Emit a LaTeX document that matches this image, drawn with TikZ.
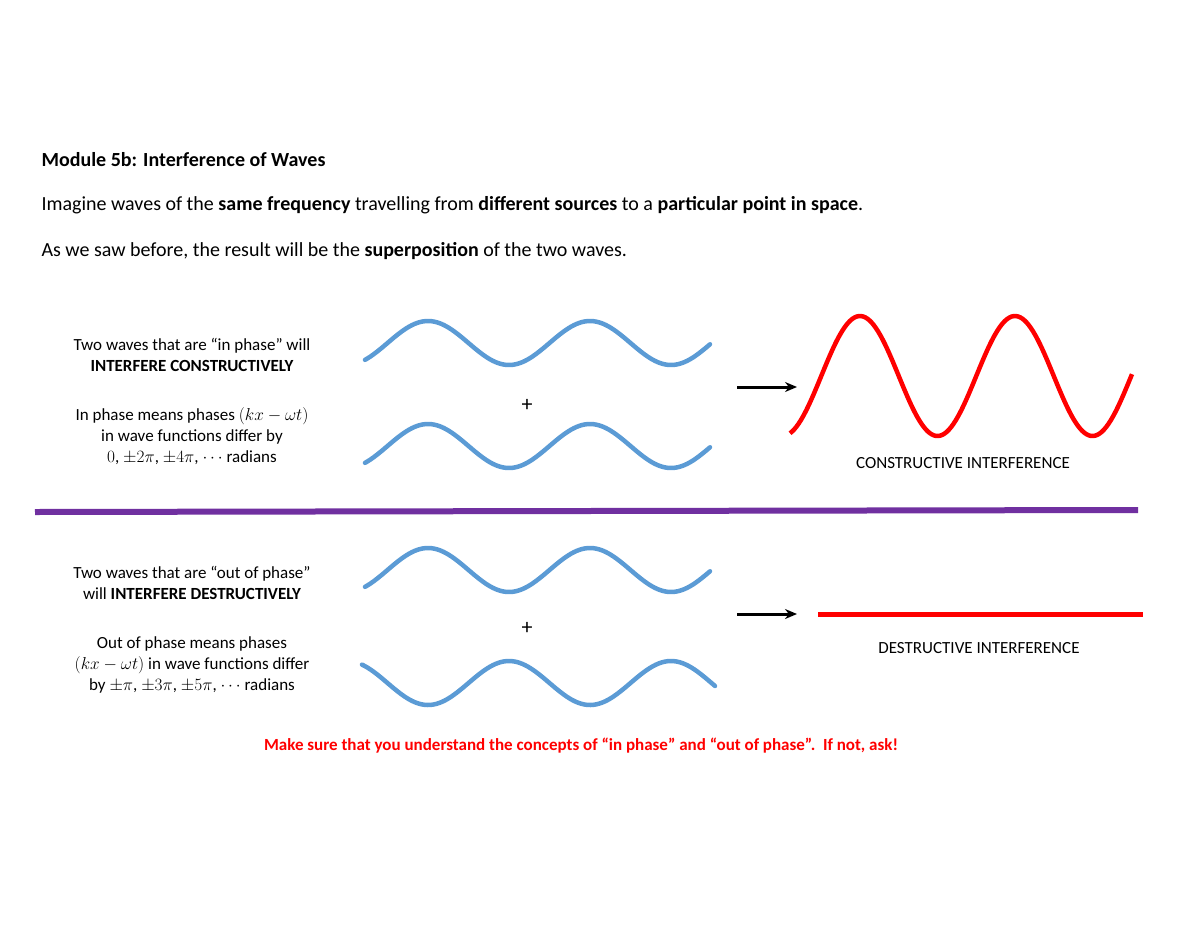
\documentclass[tikz,border=0pt]{standalone}
\usepackage{fontspec}
\usetikzlibrary{arrows.meta}
\setmainfont{Carlito}
\definecolor{wblue}{HTML}{5B9BD5}
\definecolor{wpurple}{HTML}{7030A0}
\begin{document}
\begin{tikzpicture}[x=1pt,y=-1pt,
  wave/.style={wblue,line width=4.5pt,line cap=round},
  rwave/.style={red,line width=4.5pt},
  lt/.style={align=center,font=\fontsize{17}{21}\selectfont},
  hd/.style={anchor=west,font=\fontsize{20}{24}\selectfont},
  arr/.style={-{Stealth[length=12pt,width=10pt]},line width=3pt}]
\useasboundingbox (0,0) rectangle (1200,927);
\node[hd] (t1) at (38,160) {\textbf{Module 5b: Interference of Waves}};
\node[hd] (t2) at (38,205) {Imagine waves of the \textbf{same frequency} travelling from \textbf{different sources} to a \textbf{particular point in space}.};
\node[hd] (t3) at (38,251) {As we saw before, the result will be the \textbf{superposition} of the two waves.};
% waves
\draw[wave] plot[domain=365:710,samples=120,smooth] (\x,{343-22*cos((\x-428)*2.2222)});
\draw[wave] plot[domain=365:710,samples=120,smooth] (\x,{446-22*cos((\x-428)*2.2222)});
\draw[wave] plot[domain=365:710,samples=120,smooth] (\x,{570-22*cos((\x-428)*2.2222)});
\draw[wave] plot[domain=362:715,samples=120,smooth] (\x,{683+22*cos((\x-428)*2.2222)});
\draw[rwave] plot[domain=790:1132,samples=160,smooth] (\x,{376-60*cos((\x-860)*2.3226)});
\node[font=\fontsize{22}{24}\selectfont] (p1) at (527,405) {+};
\node[font=\fontsize{22}{24}\selectfont] (p2) at (527,628) {+};
\coordinate (a1s) at (737,387); \coordinate (a1e) at (797,387);
\coordinate (a2s) at (737,614); \coordinate (a2e) at (797,614);
\draw[arr] (a1s) -- (a1e);
\draw[arr] (a2s) -- (a2e);
\coordinate (ps) at (35,512); \coordinate (pe) at (1138,510);
\draw[wpurple,line width=6pt] (ps) -- (pe);
\coordinate (rs) at (818,614); \coordinate (re) at (1143,614);
\draw[red,line width=5pt] (rs) -- (re);
\node[lt] (c1) at (963,463) {CONSTRUCTIVE INTERFERENCE};
\node[lt] (c2) at (979,648) {DESTRUCTIVE INTERFERENCE};
\node[lt] (l1) at (192,355) {Two waves that are “in phase” will\\\textbf{INTERFERE CONSTRUCTIVELY}};
\node[lt] (l2) at (192,436) {In phase means phases $(kx-\omega t)$\\in wave functions differ by\\$0$, $\pm2\pi$, $\pm4\pi$, $\cdots$ radians};
\node[lt] (l3) at (192,583) {Two waves that are “out of phase”\\will \textbf{INTERFERE DESTRUCTIVELY}};
\node[lt] (l4) at (192,665) {Out of phase means phases\\$(kx-\omega t)$ in wave functions differ\\by $\pm\pi$, $\pm3\pi$, $\pm5\pi$, $\cdots$ radians};
\node[lt,red] (m) at (581,746) {\textbf{Make sure that you understand the concepts of “in phase” and “out of phase”.\ \ If not, ask!}};
\end{tikzpicture}
\end{document}
